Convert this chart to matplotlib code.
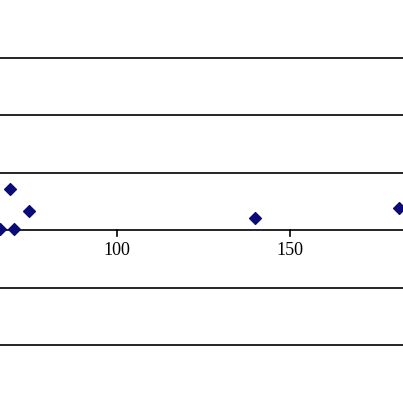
import matplotlib
matplotlib.use("Agg")
import matplotlib.pyplot as plt

x_vals = [66.3, 69.1, 70.2, 74.5, 139.9, 181.6]
y_vals = [0.02, 0.72, 0.02, 0.33, 0.21, 0.38]
x_ticks = [100, 150]

fig = plt.figure(figsize=(4.03, 4.03), dpi=100)
ax = fig.add_axes([0, 0, 1, 1])
ax.set_xlim(66.2, 182.7)
ax.set_ylim(-3.0, 4.0)

for g in [-2, -1, 1, 2, 3]:
    ax.axhline(g, color="black", lw=1.2, zorder=1)
ax.axhline(0, color="black", lw=1.2, zorder=1)

ax.scatter(x_vals, y_vals, marker="D", s=36, color="#0a0a78", edgecolors="#0a0a78", zorder=3, clip_on=False)

for s in ax.spines.values():
    s.set_visible(False)
ax.set_yticks([])
ax.set_xticks([])
for t in x_ticks:
    ax.plot([t, t], [0, -0.1], color="black", lw=1.2)
    ax.text(t, -0.2, str(t), ha="center", va="top", fontsize=13, family="Liberation Serif")

fig.savefig("out.png", dpi=100)
